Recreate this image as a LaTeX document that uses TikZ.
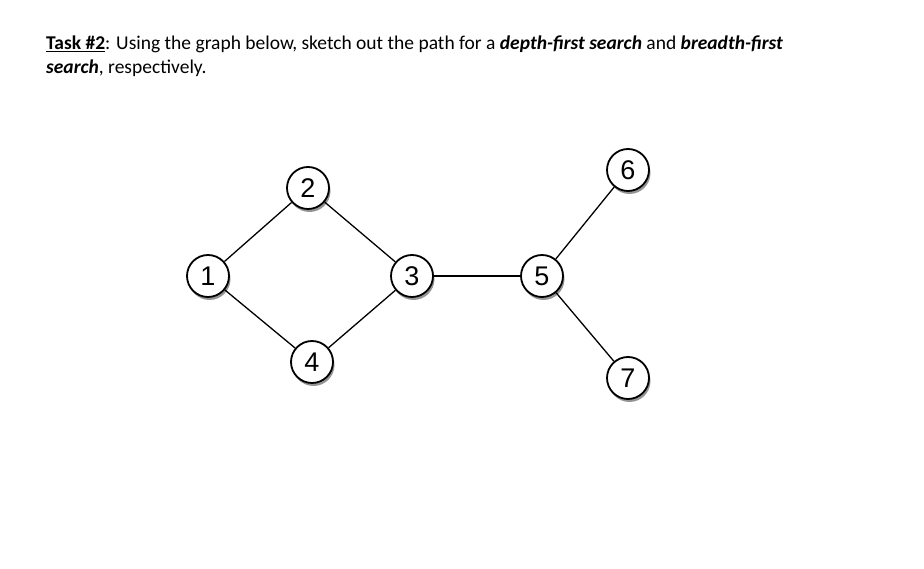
\documentclass[tikz,border=0pt]{standalone}
\usepackage{fontspec}
\setmainfont{Carlito}
\newfontfamily\helv{Liberation Sans}
\usetikzlibrary{shadows}
\begin{document}
\begin{tikzpicture}[x=1pt,y=1pt,
  vtx/.style={circle,draw,line width=1.8pt,fill=white,minimum size=42pt,inner sep=0pt,
    font=\helv\fontsize{27}{27}\selectfont,
    drop shadow={shadow xshift=1.5pt,shadow yshift=-3pt,fill=black!60,opacity=0.7}},
  edge/.style={line width=1.3pt}]
\useasboundingbox (0,0) rectangle (924,568);
\node[anchor=north west,align=left,inner sep=0pt,
  font=\fontsize{19.5}{24}\selectfont] (txt) at (46,532)
  {\textbf{\underline{Task \#2}}: Using the graph below, sketch out the path for a \textbf{\textit{depth-first search}} and \textbf{\textit{breadth-first}}\\ \textbf{\textit{search}}, respectively.};
\node[vtx] (n1) at (208,292) {1};
\node[vtx] (n2) at (308,380) {2};
\node[vtx] (n3) at (412,292) {3};
\node[vtx] (n4) at (312,206) {4};
\node[vtx] (n5) at (542,292) {5};
\node[vtx] (n6) at (628,398) {6};
\node[vtx] (n7) at (628,190) {7};
\draw[edge] (n1) -- (n2);
\draw[edge] (n2) -- (n3);
\draw[edge] (n1) -- (n4);
\draw[edge] (n4) -- (n3);
\draw[edge] (n3) -- (n5);
\draw[edge] (n5) -- (n6);
\draw[edge] (n5) -- (n7);
\end{tikzpicture}
\end{document}
